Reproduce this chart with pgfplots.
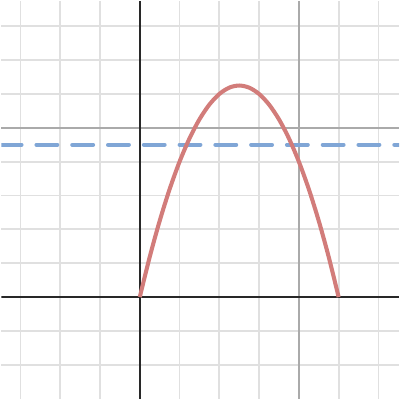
\documentclass[border=0pt]{standalone}
\usepackage{pgfplots}
\pgfplotsset{compat=1.18}
\definecolor{gridlight}{RGB}{224,224,224}
\definecolor{gridmajor}{RGB}{170,170,170}
\definecolor{axisdark}{RGB}{40,40,40}
\definecolor{curvered}{RGB}{210,124,122}
\definecolor{dashblue}{RGB}{128,166,214}

\begin{document}
\begin{tikzpicture}
\begin{axis}[
    scale only axis,
    width=10cm,
    height=10cm,
    xmin=-1.74, xmax=3.26,
    ymin=-0.6, ymax=1.75,
    axis line style={draw=none},
    major tick length=0pt,
    xtick={-1.5,-1,-0.5,0.5,1,1.5,2.5,3},
    ytick={-0.4,-0.2,0.2,0.4,0.6,0.8,1.2,1.4,1.6},
    xticklabels={}, yticklabels={},
    tick label style={inner sep=0pt, outer sep=0pt},
    grid=major,
    major grid style={gridlight, line width=1.3pt},
    extra x ticks={2},
    extra y ticks={1},
    extra x tick labels={},
    extra y tick labels={},
    extra tick style={grid=major, major grid style={gridmajor, line width=1.3pt}},
]
% coordinate axes
\addplot[axisdark, line width=1.4pt] coordinates {(-1.74,0) (3.26,0)};
\addplot[axisdark, line width=1.4pt] coordinates {(0,-0.6) (0,1.75)};

% horizontal dashed level
\addplot[dashblue, line width=2.9pt, line cap=round,
    dash pattern=on 14.9pt off 10.7pt, dash phase=0.5pt]
    coordinates {(-1.74,0.9) (3.26,0.9)};

% parabola
\addplot[curvered, line width=2.9pt, smooth] coordinates {
    (0,0) (0.125,0.2375) (0.25,0.45) (0.375,0.6375) (0.5,0.8)
    (0.625,0.9375) (0.75,1.05) (0.875,1.1375) (1.0,1.2) (1.125,1.2375)
    (1.25,1.25) (1.375,1.2375) (1.5,1.2) (1.625,1.1375) (1.75,1.05)
    (1.875,0.9375) (2.0,0.8) (2.125,0.6375) (2.25,0.45) (2.375,0.2375)
    (2.5,0)
};
\end{axis}
\end{tikzpicture}
\end{document}
